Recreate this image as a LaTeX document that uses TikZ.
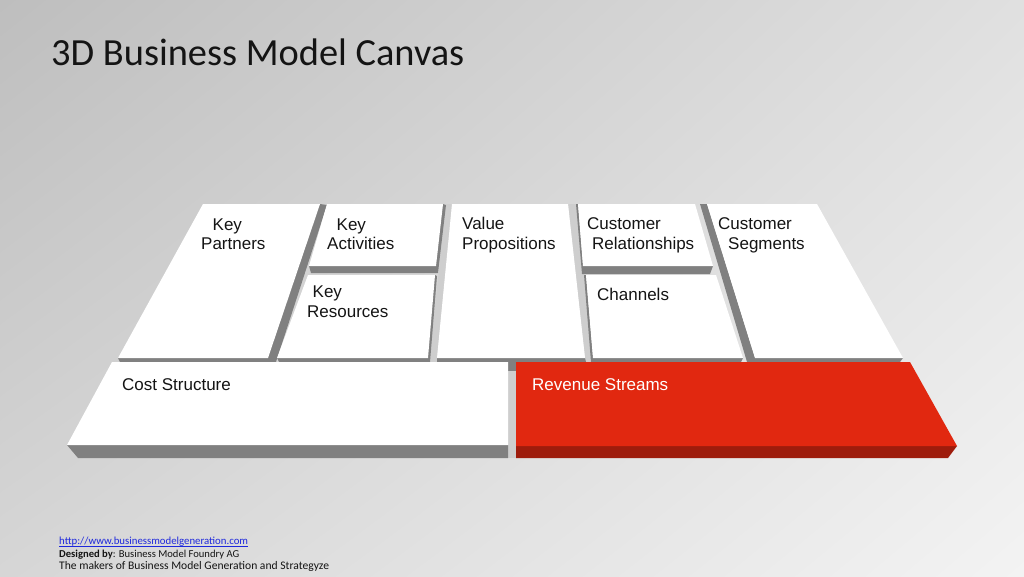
\documentclass[tikz,border=0pt]{standalone}
\usepackage{fontspec}
\usetikzlibrary{shadings}
\setmainfont{Liberation Sans}
\newfontfamily\calfont{Carlito}
\definecolor{facegray}{RGB}{128,128,128}
\definecolor{sidegray}{RGB}{206,206,206}
\definecolor{rsred}{RGB}{225,40,16}
\definecolor{rsdark}{RGB}{158,28,12}
\definecolor{bgUL}{RGB}{190,190,190}
\definecolor{bgUR}{RGB}{224,224,224}
\definecolor{bgLL}{RGB}{214,214,214}
\definecolor{bgLR}{RGB}{243,243,243}
\definecolor{txt}{RGB}{20,20,20}
\definecolor{linkblue}{RGB}{30,40,220}
\begin{document}
\begin{tikzpicture}[x=1pt,y=-1pt,
  topface/.style={fill=white},
  darkface/.style={fill=facegray},
  lightface/.style={fill=sidegray},
  lbl/.style={anchor=base west,inner sep=0pt,text=txt,font=\fontsize{17}{20}\selectfont},
  foot/.style={anchor=base west,inner sep=0pt,text=txt}]
\useasboundingbox (0,0) rectangle (1024,576);
\shade[upper left=bgUL,upper right=bgUR,lower left=bgLL,lower right=bgLR] (0,0) rectangle (1024,576);

% title
\node[anchor=base west,inner sep=0pt,text=txt,font=\calfont\fontsize{38.4}{44}\selectfont] (title) at (51,65.5) {3D Business Model Canvas};

% light side faces of Value Propositions
\fill[lightface] (446,204) -- (452,204) -- (437,358) -- (437,362) -- (429,362) -- cycle;
\fill[lightface] (568,204) -- (577,204) -- (594,362) -- (586,362) -- (585,358) -- cycle;

% Key Partners
\fill[darkface] (118,358) -- (120,362) -- (276,362) -- (327,205) -- (320,204) -- cycle;
\fill[topface] (203,204) -- (320,204) -- (268,358) -- (118,358) -- cycle;
% Key Activities
\fill[darkface] (309,266) -- (311,273) -- (438,273) -- (446,205) -- (443,204) -- cycle;
\fill[topface] (327,204) -- (443,204) -- (436,266) -- (309,266) -- cycle;
% Key Resources
\fill[darkface] (277,358) -- (279,362) -- (430,362) -- (437,276) -- (435,275) -- cycle;
\fill[topface] (308,275) -- (435,275) -- (428,358) -- (277,358) -- cycle;
% Value Propositions
\fill[darkface] (437,358) -- (585,358) -- (586,362) -- (437,362) -- cycle;
\fill[topface] (452,204) -- (568,204) -- (585,358) -- (437,358) -- cycle;
% Customer Relationships
\fill[darkface] (578,204) -- (576,204) -- (582,274) -- (710,274) -- (713,266) -- (583,266) -- cycle;
\fill[topface] (578,204) -- (695,204) -- (713,266) -- (583,266) -- cycle;
% Channels
\fill[darkface] (586,275) -- (584,275) -- (591,362) -- (741,362) -- (743,358) -- (593,358) -- cycle;
\fill[topface] (586,275) -- (716,275) -- (743,358) -- (593,358) -- cycle;
% Customer Segments
\fill[darkface] (707,204) -- (700,204) -- (747,362) -- (900,362) -- (903,358) -- (755,358) -- cycle;
\fill[topface] (707,204) -- (817,204) -- (903,358) -- (755,358) -- cycle;

% gap between bottom tiles
\fill[lightface] (508,362) rectangle (516,458);
\fill[darkface] (508,362) rectangle (516,371);
% Cost Structure
\fill[darkface] (67,445) -- (508,445) -- (508,458) -- (78,458) -- cycle;
\fill[topface] (112,362) -- (508,362) -- (508,445) -- (67,445) -- cycle;
% Revenue Streams
\fill[rsdark] (516,446) -- (957,446) -- (948,458) -- (516,458) -- cycle;
\fill[rsred] (516,362) -- (910,362) -- (957,446) -- (516,446) -- cycle;

% labels
\node[lbl] (kp1) at (212.5,230) {Key};
\node[lbl] (kp2) at (201,249.5) {Partners};
\node[lbl] (ka1) at (336.5,230) {Key};
\node[lbl] (ka2) at (327,249.5) {Activities};
\node[lbl] (kr1) at (312.5,297.5) {Key};
\node[lbl] (kr2) at (307,317.5) {Resources};
\node[lbl] (vp1) at (462,229.5) {Value};
\node[lbl] (vp2) at (462,249.5) {Propositions};
\node[lbl] (cr1) at (587,229.5) {Customer};
\node[lbl] (cr2) at (592,249.5) {Relationships};
\node[lbl] (ch1) at (597,300.5) {Channels};
\node[lbl] (cs1) at (718,229.5) {Customer};
\node[lbl] (cs2) at (728,249.5) {Segments};
\node[lbl] (cost) at (122,390.5) {Cost Structure};
\node[lbl,text=white] (rev) at (532,390.5) {Revenue Streams};

% footer
\node[foot,text=linkblue,font=\calfont\fontsize{10.8}{13}\selectfont] (link) at (59,544.5) {http://www.businessmodelgeneration.com};
\draw[linkblue,line width=0.6pt] ([yshift=-1.4pt]link.base west) -- ([yshift=-1.4pt]link.base east);
\node[foot,font=\calfont\fontsize{10.6}{13}\selectfont] (des) at (59,557.5) {\textbf{Designed by}: Business Model Foundry AG};
\node[foot,font=\calfont\fontsize{11.6}{13}\selectfont] (mak) at (59,569.5) {The makers of Business Model Generation and Strategyze};
\end{tikzpicture}
\end{document}
